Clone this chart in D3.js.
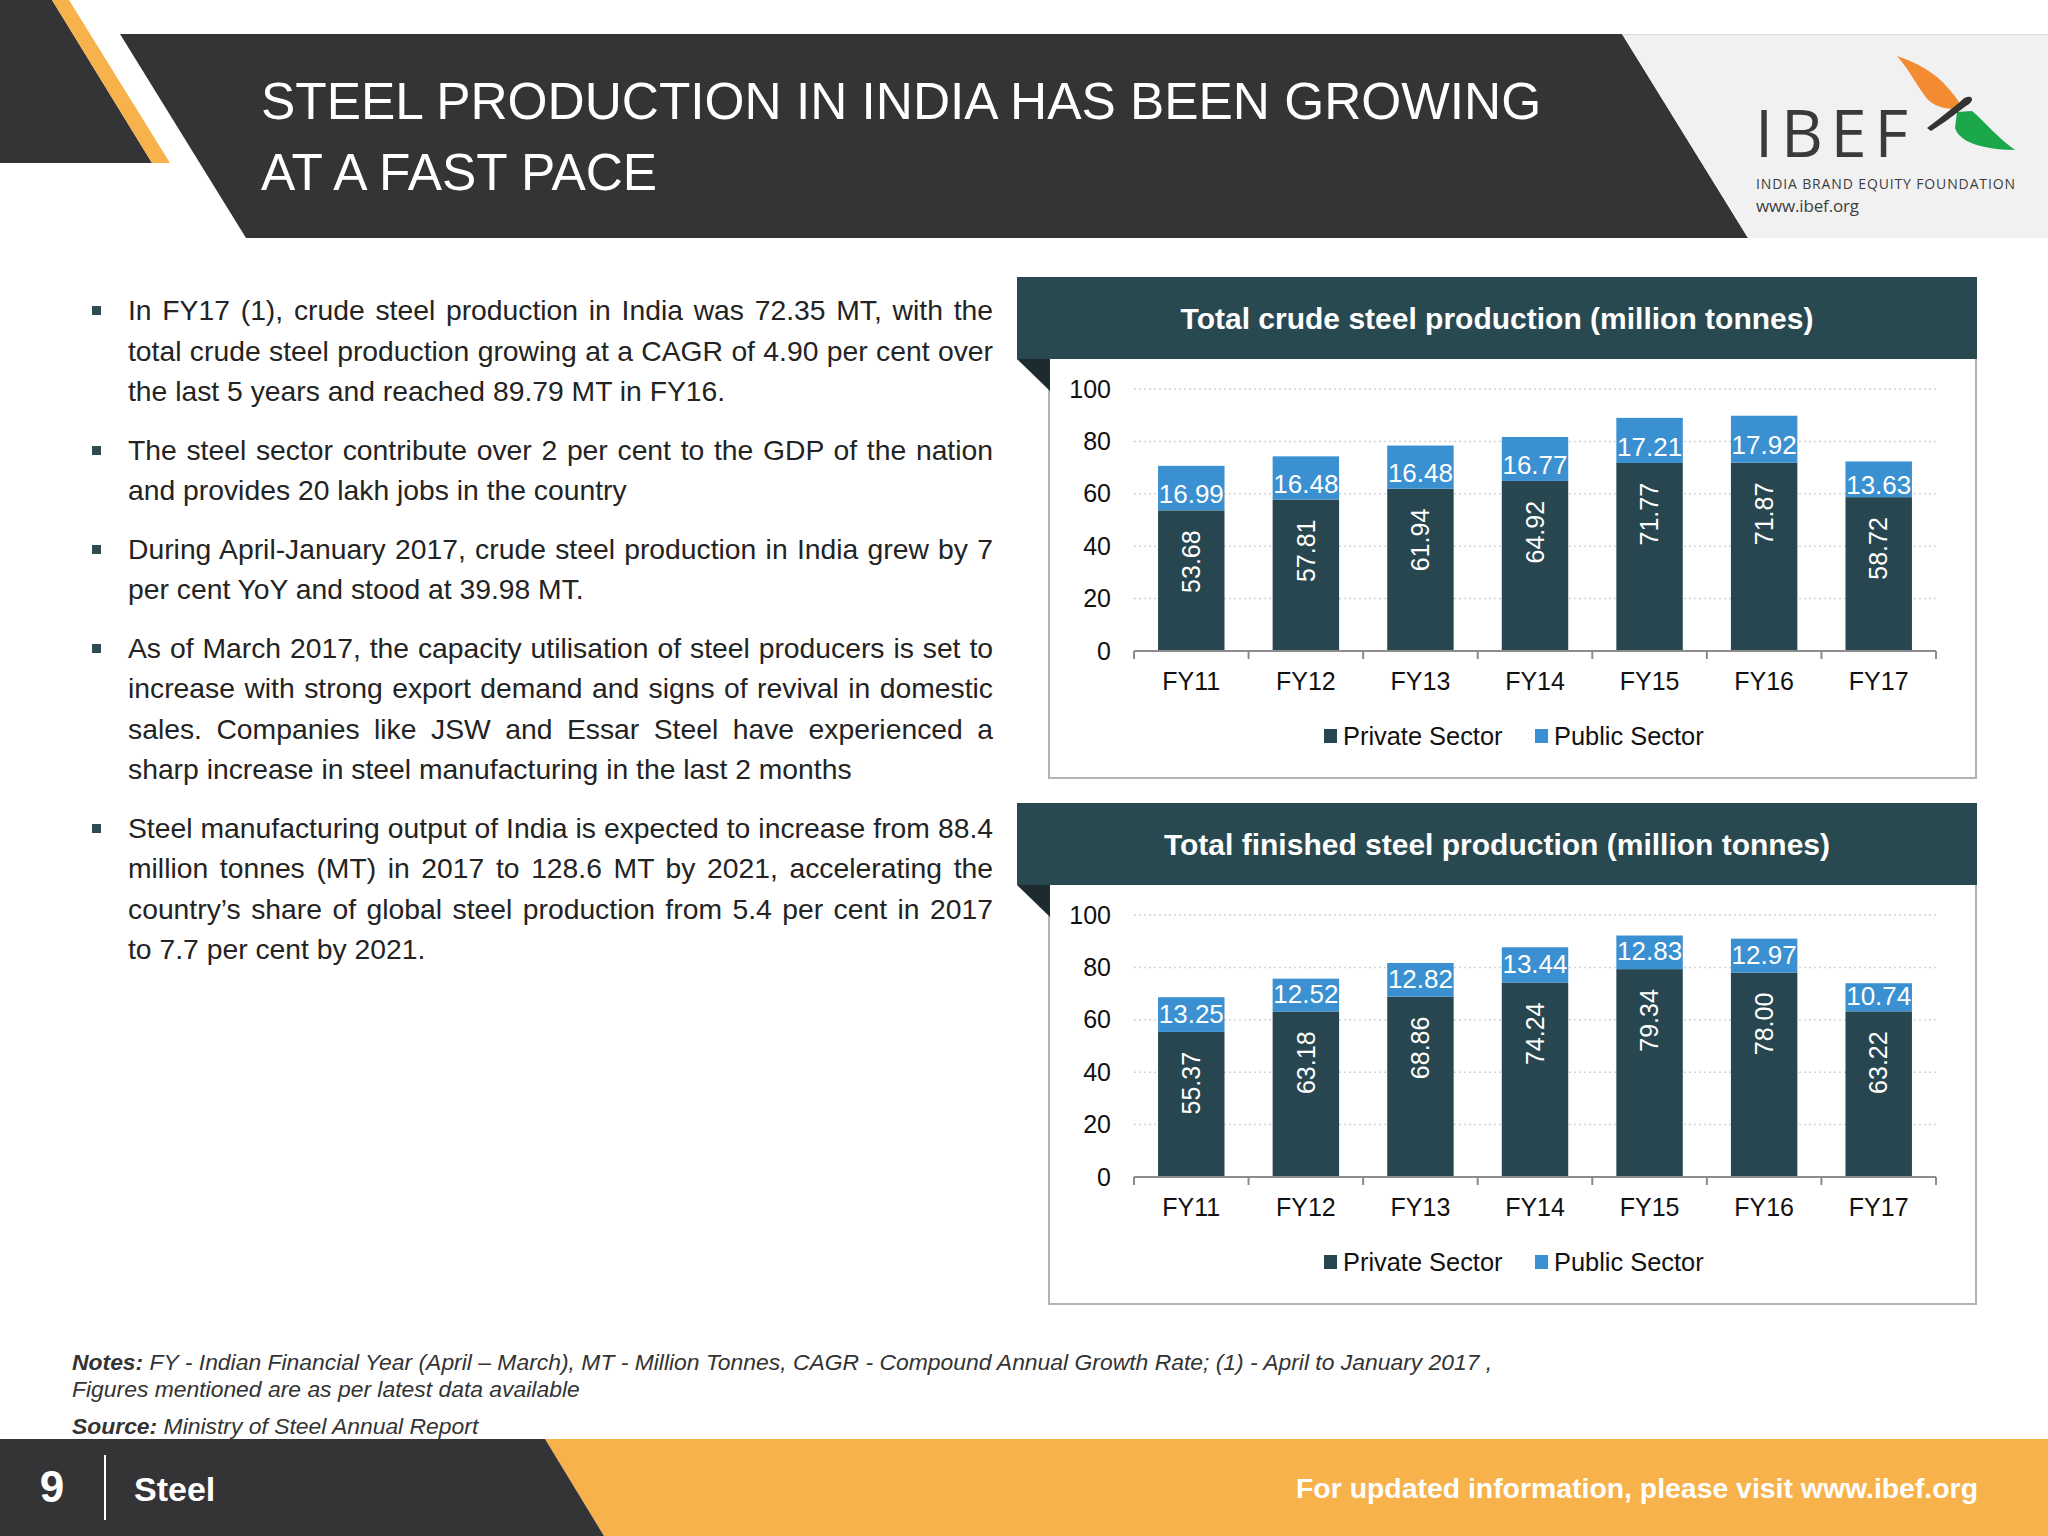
<!DOCTYPE html>
<html>
<head>
<meta charset="utf-8">
<script src="https://cdn.jsdelivr.net/npm/d3@7"></script>
<style>
  body { margin: 0; width: 2048px; height: 1536px; overflow: hidden; background: #fff;
         font-family: "Liberation Sans", Arial, sans-serif; }
  svg { position: absolute; left: 0; top: 0; }
  #bullets { position: absolute; left: 128px; top: 290px; width: 865px; font-size: 28.3px;
             line-height: 40.5px; color: #232323; }
  #bullets p { margin: 0 0 18px; text-align: justify; position: relative; }
  #bullets p:before { content: ""; position: absolute; left: -36px; top: 16px; width: 9px; height: 9px;
                      background: #2f4b53; }
</style>
</head>
<body>
<div id="bullets"></div>
<script>
// chart data
var categories = ["FY11", "FY12", "FY13", "FY14", "FY15", "FY16", "FY17"];
var crudePrivate = [53.68, 57.81, 61.94, 64.92, 71.77, 71.87, 58.72];
var crudePublic = [16.99, 16.48, 16.48, 16.77, 17.21, 17.92, 13.63];
var finishedPrivate = [55.37, 63.18, 68.86, 74.24, 79.34, 78.00, 63.22];
var finishedPublic = [13.25, 12.52, 12.82, 13.44, 12.83, 12.97, 10.74];
var yTicks = [0, 20, 40, 60, 80, 100];
var seriesNames = ["Private Sector", "Public Sector"];

var bullets = [
  "In FY17 (1), crude steel production in India was 72.35 MT, with the total crude steel production growing at a CAGR of 4.90 per cent over the last 5 years and reached 89.79 MT in FY16.",
  "The steel sector contribute over 2 per cent to the GDP of the nation and provides 20 lakh jobs in the country",
  "During April-January 2017, crude steel production in India grew by 7 per cent YoY and stood at 39.98 MT.",
  "As of March 2017, the capacity utilisation of steel producers is set to increase with strong export demand and signs of revival in domestic sales. Companies like JSW and Essar Steel have experienced a sharp increase in steel manufacturing in the last 2 months",
  "Steel manufacturing output of India is expected to increase from 88.4 million tonnes (MT) in 2017 to 128.6 MT by 2021, accelerating the country\u2019s share of global steel production from 5.4 per cent in 2017 to 7.7 per cent by 2021."
];

var dark = "#343335", orange = "#f7b24b";
var privColor = "#28464f", pubColor = "#3a90d0", headColor = "#294951";

d3.select("#bullets").selectAll("p").data(bullets).enter().append("p").text(d => d);

var svg = d3.select("body").insert("svg", "#bullets")
    .attr("width", 2048).attr("height", 1536);

// header
svg.append("polygon").attr("points", "0,0 52,0 152,163 0,163").attr("fill", dark);
svg.append("polygon").attr("points", "52,0 69,0 170,163 152,163").attr("fill", orange);
svg.append("polygon").attr("points", "120,34 1622,34 1748,238 246,238").attr("fill", dark);
svg.append("polygon").attr("points", "1622,34 2048,34 2048,238 1748,238").attr("fill", "#f1f1f2");
svg.append("line").attr("x1", 1622).attr("x2", 2048).attr("y1", 34.5).attr("y2", 34.5)
    .attr("stroke", "#dcdce0");

var title = svg.append("text").attr("fill", "#fff").style("font-size", "51.4px");
title.append("tspan").attr("x", 261).attr("y", 119).text("STEEL PRODUCTION IN INDIA HAS BEEN GROWING");
title.append("tspan").attr("x", 261).attr("y", 190).text("AT A FAST PACE");

// logo
var logo = svg.append("g");
logo.append("text").attr("x", 1755).attr("y", 157).attr("textLength", 153).attr("lengthAdjust", "spacing")
    .attr("fill", "#3a3a3a").style("font-family", "'Open Sans', sans-serif").style("font-size", "65px")
    .text("IBEF");
logo.append("text").attr("x", 1756).attr("y", 189).attr("textLength", 259).attr("lengthAdjust", "spacing")
    .attr("fill", "#3d3d3d").style("font-family", "'Open Sans', sans-serif").style("font-size", "14px")
    .text("INDIA BRAND EQUITY FOUNDATION");
logo.append("text").attr("x", 1756).attr("y", 212).attr("textLength", 103).attr("lengthAdjust", "spacing")
    .attr("fill", "#3d3d3d").style("font-family", "'Open Sans', sans-serif").style("font-size", "17px")
    .text("www.ibef.org");
logo.append("path").attr("fill", "#f28b32")
    .attr("d", "M1897,56 C1915,62 1935,72 1948,88 C1956,97 1960,103 1961,106 L1952,109 C1940,108 1930,104 1925,96 C1916,84 1908,68 1897,56 Z");
logo.append("path").attr("fill", "#1ba84b")
    .attr("d", "M1957,112 L1972,111 C1985,122 1998,138 2015,150 C2003,150 1993,149 1985,147 C1970,144 1958,138 1955,128 Z");
logo.append("path").attr("fill", "#333")
    .attr("d", "M1970,97 C1974,98 1972,103 1966,106 L1946,121 L1931,131 L1927,128 L1940,118 L1960,102 C1963,99 1966,96 1970,97 Z");

// charts
function drawChart(top, titleText, priv, pub, pubShift) {
  var g = svg.append("g");
  var x0 = 1134, x1 = 1936, yBase = top + 374, yMax = top + 112;

  g.append("rect").attr("x", 1049).attr("y", top + 70).attr("width", 927).attr("height", 431)
      .attr("fill", "#fff").attr("stroke", "#b3b3b3").attr("stroke-width", 2);
  g.append("rect").attr("x", 1017).attr("y", top).attr("width", 960).attr("height", 82).attr("fill", headColor);
  g.append("polygon").attr("points", [[1017, top + 82], [1050, top + 82], [1050, top + 114]].join(" "))
      .attr("fill", "#1b2b30");
  g.append("text").attr("x", 1497).attr("y", top + 41).attr("dy", "0.35em").attr("text-anchor", "middle")
      .attr("fill", "#fff").style("font-size", "30px").style("font-weight", "bold").text(titleText);

  var x = d3.scaleBand().domain(categories).range([x0, x1]).paddingInner(0.42).paddingOuter(0.21);
  var y = d3.scaleLinear().domain([0, 100]).range([yBase, yMax]);

  // grid
  g.selectAll(".grid").data(yTicks.slice(1)).enter().append("line")
      .attr("x1", x0).attr("x2", x1).attr("y1", d => y(d)).attr("y2", d => y(d))
      .attr("stroke", "#d4d4d4").attr("stroke-width", 1.5).attr("stroke-dasharray", "2,3");

  var rows = categories.map((c, i) => ({ cat: c, Private: priv[i], Public: pub[i] }));
  var stacked = d3.stack().keys(["Private", "Public"])(rows);
  var colors = [privColor, pubColor];

  stacked.forEach((layer, li) => {
    g.selectAll(".bar" + li).data(layer).enter().append("rect")
        .attr("x", d => x(d.data.cat)).attr("width", x.bandwidth())
        .attr("y", d => y(d[1])).attr("height", d => y(d[0]) - y(d[1]))
        .attr("fill", colors[li]);
  });

  // private labels (rotated, inside end)
  g.selectAll(".plab").data(stacked[0]).enter().append("text")
      .attr("transform", d => "translate(" + (x(d.data.cat) + x.bandwidth() / 2) + "," + (y(d[1]) + 20) + ") rotate(-90)")
      .attr("dy", "0.35em").attr("text-anchor", "end").attr("fill", "#fff").style("font-size", "25px")
      .text(d => d.data.Private.toFixed(2));
  // public labels (centered)
  g.selectAll(".qlab").data(stacked[1]).enter().append("text")
      .attr("x", d => x(d.data.cat) + x.bandwidth() / 2).attr("y", d => (y(d[0]) + y(d[1])) / 2 + pubShift)
      .attr("dy", "0.35em").attr("text-anchor", "middle").attr("fill", "#fff").style("font-size", "26px")
      .text(d => d.data.Public.toFixed(2));

  // x axis
  var xAxis = d3.axisBottom(x).tickSize(0).tickPadding(0);
  var ax = g.append("g").attr("transform", "translate(0," + yBase + ")").call(xAxis);
  ax.select(".domain").remove();
  ax.selectAll("text").attr("dy", null).attr("y", 39).style("font-size", "25px")
      .style("font-family", "'Liberation Sans', Arial, sans-serif").attr("fill", "#111");
  g.append("line").attr("x1", x0).attr("x2", x1).attr("y1", yBase).attr("y2", yBase)
      .attr("stroke", "#8c8c8c").attr("stroke-width", 2);
  g.selectAll(".tk").data(d3.range(categories.length + 1)).enter().append("line")
      .attr("x1", i => x0 + i * x.step()).attr("x2", i => x0 + i * x.step())
      .attr("y1", yBase).attr("y2", yBase + 8).attr("stroke", "#8c8c8c").attr("stroke-width", 2);

  // y labels
  var yAxis = d3.axisLeft(y).tickValues(yTicks).tickSize(0).tickPadding(0);
  var ay = g.append("g").attr("transform", "translate(1111,0)").call(yAxis);
  ay.select(".domain").remove();
  ay.selectAll("text").style("font-size", "25px")
      .style("font-family", "'Liberation Sans', Arial, sans-serif").attr("fill", "#111");

  // legend
  var legX = [1324, 1535];
  var leg = g.selectAll(".leg").data(seriesNames).enter().append("g")
      .attr("transform", (d, i) => "translate(" + legX[i] + "," + (top + 459) + ")");
  leg.append("rect").attr("x", 0).attr("y", -7).attr("width", 13).attr("height", 14)
      .attr("fill", (d, i) => colors[i]);
  leg.append("text").attr("x", 19).attr("dy", "0.35em").style("font-size", "25.4px").attr("fill", "#111")
      .text(d => d);
}

drawChart(277, "Total crude steel production (million tonnes)", crudePrivate, crudePublic, 6);
drawChart(803, "Total finished steel production (million tonnes)", finishedPrivate, finishedPublic, -1);

// notes
var notes = svg.append("g").attr("fill", "#333").style("font-size", "22.9px").style("font-style", "italic");
var n1 = notes.append("text").attr("x", 72).attr("y", 1370);
n1.append("tspan").style("font-weight", "bold").text("Notes: ");
n1.append("tspan").text("FY - Indian Financial Year (April \u2013 March), MT - Million Tonnes, CAGR - Compound Annual Growth Rate; (1) - April to January 2017 ,");
notes.append("text").attr("x", 72).attr("y", 1397).text("Figures mentioned are as per latest data available");
var n3 = notes.append("text").attr("x", 72).attr("y", 1434);
n3.append("tspan").style("font-weight", "bold").text("Source: ");
n3.append("tspan").text("Ministry of Steel Annual Report");

// footer
svg.append("polygon").attr("points", "545,1439 2048,1439 2048,1536 604,1536").attr("fill", orange);
svg.append("polygon").attr("points", "0,1439 545,1439 604,1536 0,1536").attr("fill", dark);
svg.append("text").attr("x", 52).attr("y", 1502).attr("text-anchor", "middle").attr("fill", "#fff")
    .style("font-size", "44px").style("font-weight", "bold").text("9");
svg.append("line").attr("x1", 105).attr("x2", 105).attr("y1", 1455).attr("y2", 1520)
    .attr("stroke", "#fff").attr("stroke-width", 2);
svg.append("text").attr("x", 134).attr("y", 1501).attr("fill", "#fff")
    .style("font-size", "34px").style("font-weight", "bold").text("Steel");
svg.append("text").attr("x", 1978).attr("y", 1498).attr("text-anchor", "end").attr("fill", "#fff")
    .style("font-size", "28.4px").style("font-weight", "bold").text("For updated information, please visit www.ibef.org");
</script>
</body>
</html>
